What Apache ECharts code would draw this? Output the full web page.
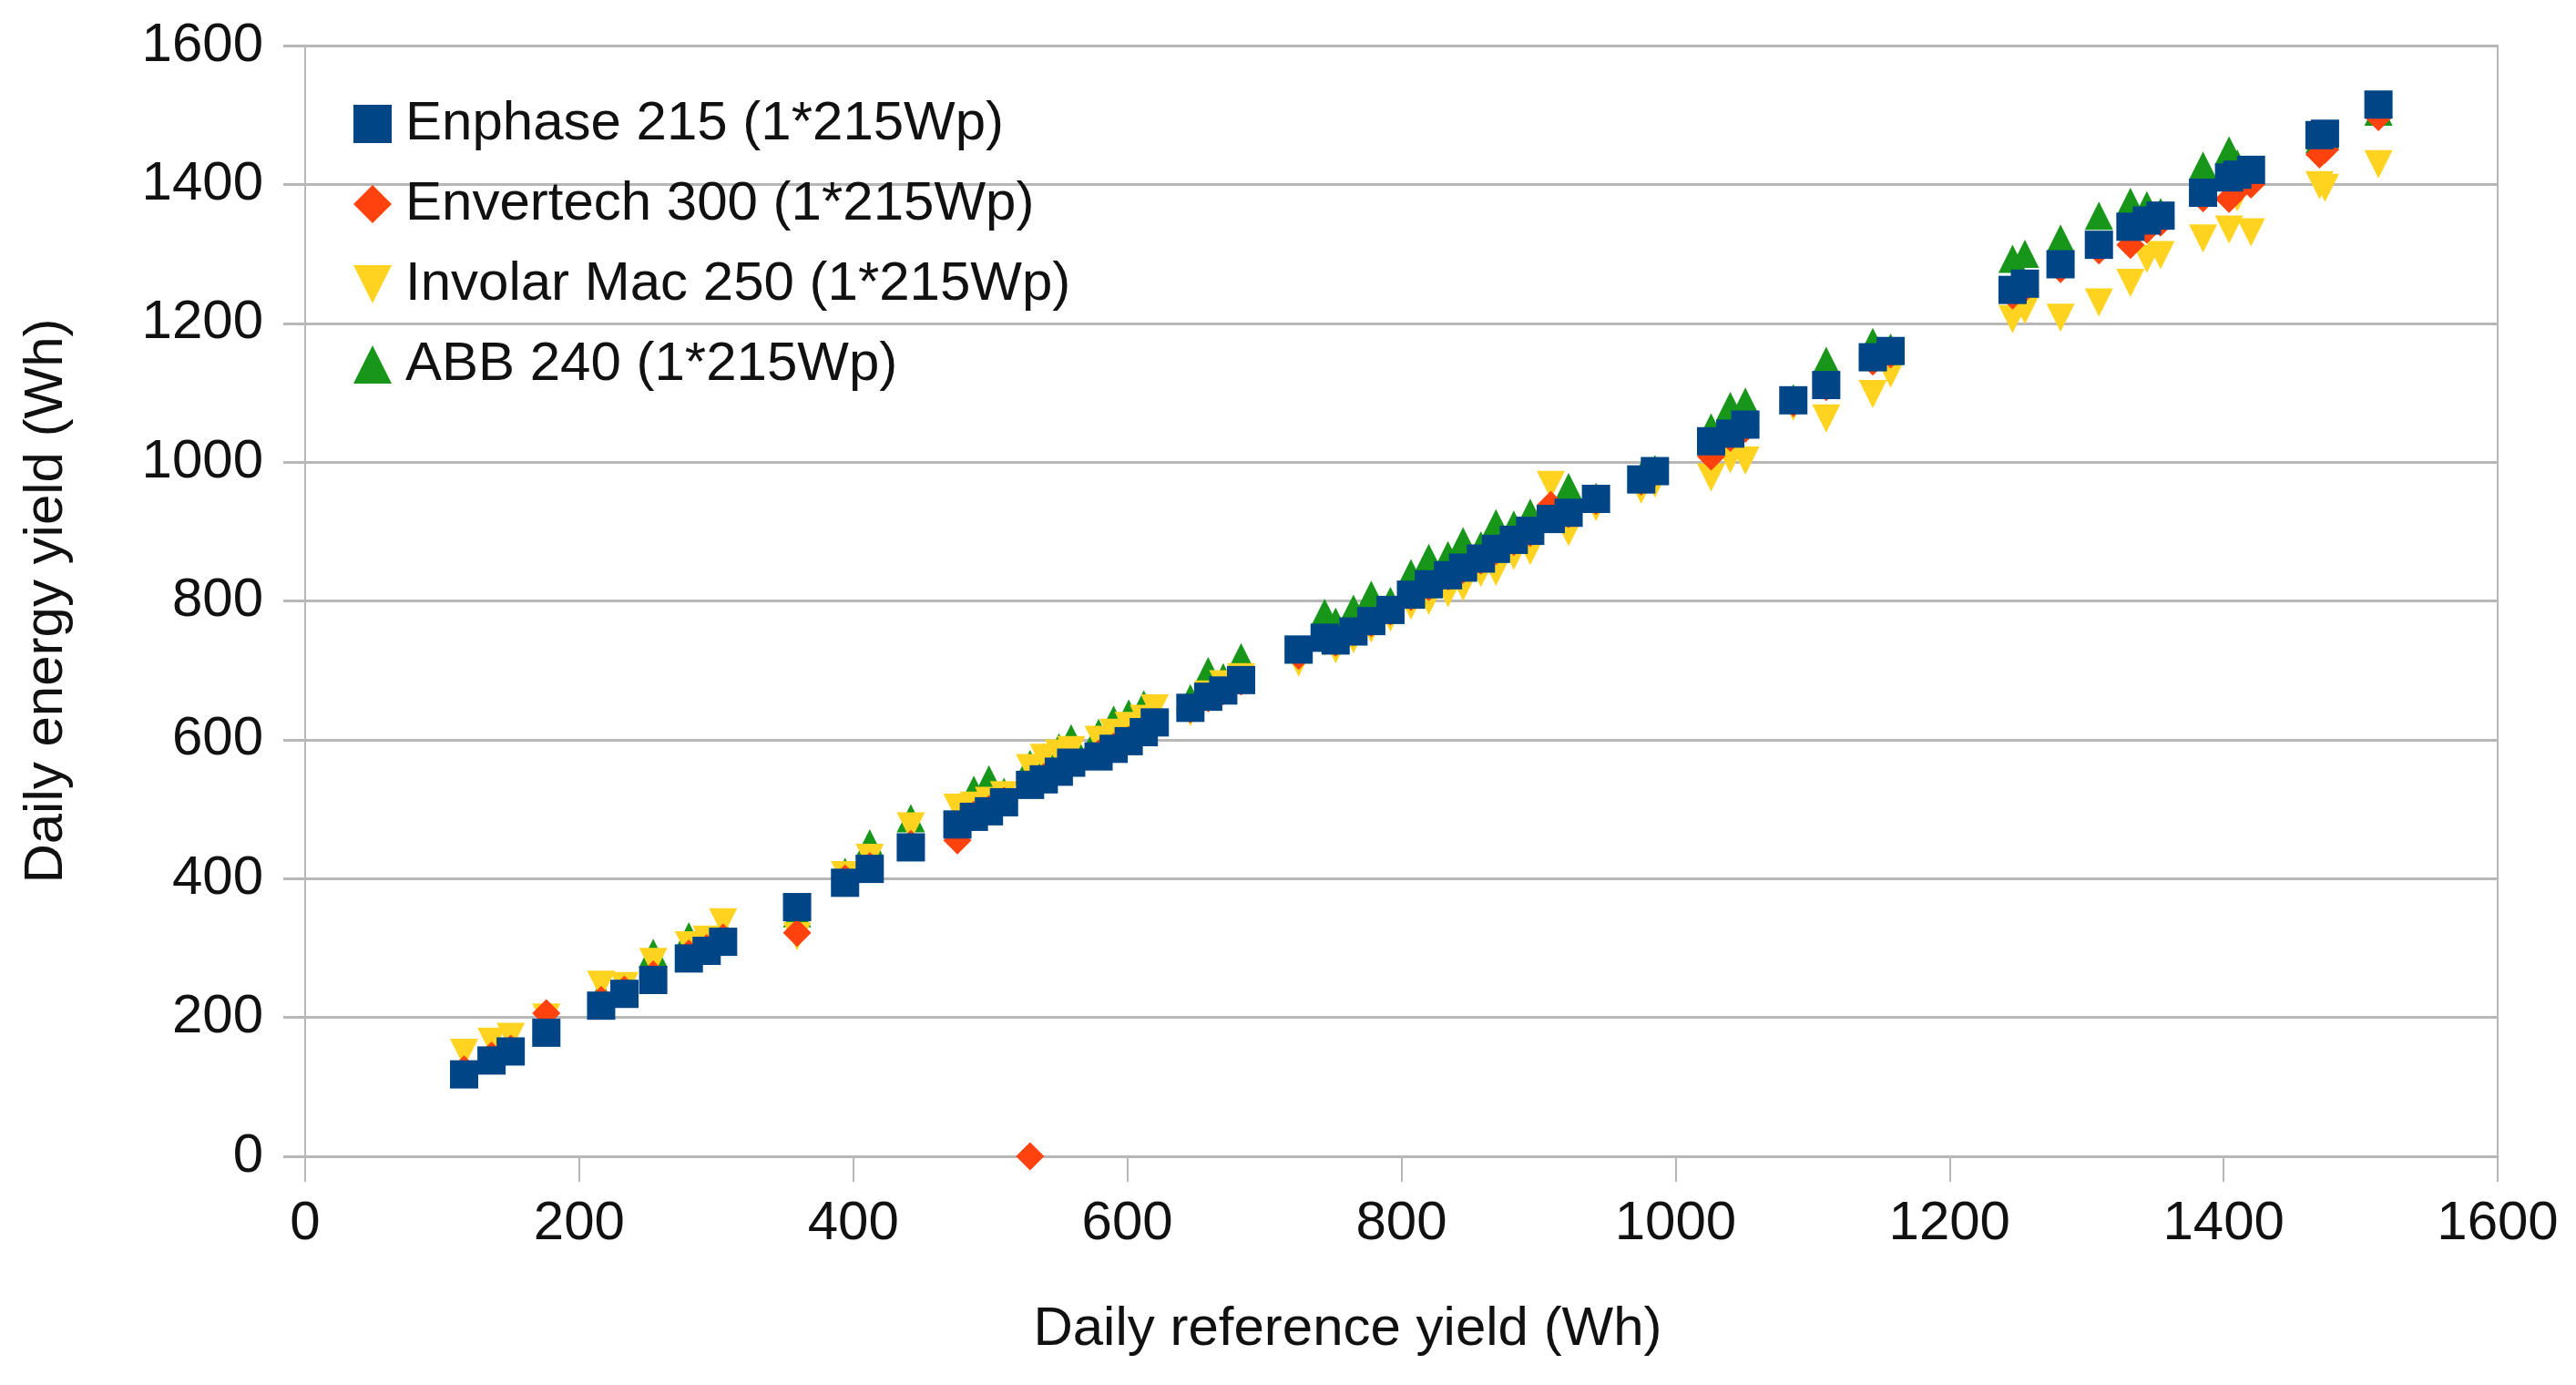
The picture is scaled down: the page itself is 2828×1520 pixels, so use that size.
<!DOCTYPE html>
<html>
<head>
<meta charset="utf-8">
<script src="https://cdn.jsdelivr.net/npm/echarts@6/dist/echarts.min.js"></script>
<style>
html,body{margin:0;padding:0;background:#fff;}
#chart{width:2828px;height:1520px;}
</style>
</head>
<body>
<div id="chart"></div>
<script>
// Daily reference yield (Wh) — shared x values
const xRef = [116,136,150,176,216,233,254,280,293,305,359,394,412,442,476,488,499,510,529,539,550,559,579,590,601,612,620,646,659,670,683,725,744,752,765,778,792,807,820,834,845,858,869,882,894,909,922,942,975,985,1026,1040,1051,1086,1110,1144,1157,1246,1255,1281,1309,1332,1344,1354,1385,1404,1410,1420,1470,1474,1513];
// Daily energy yield (Wh) per inverter
const enphase = [118,138,151,178,217,234,254,285,296,309,359,394,414,445,478,489,497,510,535,543,554,567,576,587,598,611,625,646,662,671,686,730,747,743,756,771,787,809,824,837,848,861,875,888,901,918,927,947,975,987,1030,1041,1054,1089,1111,1151,1160,1248,1257,1285,1313,1339,1348,1355,1388,1410,1414,1421,1471,1473,1515];
const envertech = [125,145,155,206,225,240,262,292,300,315,322,400,418,450,455,492,500,512,0,546,556,565,580,590,600,612,625,644,660,670,684,721,745,740,755,768,785,806,820,835,845,858,872,885,898,938,925,944,972,985,1008,1035,1048,1085,1108,1145,1155,1240,1250,1278,1305,1313,1335,1345,1380,1379,1392,1400,1443,1450,1497];
const involar = [149,165,172,200,247,245,280,304,312,337,317,405,430,475,502,505,512,520,559,574,580,585,600,610,620,630,645,640,665,680,690,711,741,730,745,760,776,793,800,811,820,840,842,865,872,967,899,935,960,969,978,1004,1002,1080,1063,1098,1127,1206,1219,1208,1230,1258,1293,1298,1322,1335,1381,1331,1399,1395,1429];
const abb = [128,150,160,190,235,245,293,317,310,325,350,410,451,487,490,528,543,525,565,575,589,602,610,629,638,651,640,660,699,690,719,730,783,770,789,809,800,840,862,866,886,880,912,910,927,935,964,950,980,990,1050,1081,1087,1092,1146,1173,1165,1293,1300,1322,1355,1375,1370,1360,1427,1449,1430,1420,1465,1470,1505];

const seriesNames = ['Enphase 215 (1*215Wp)','Envertech 300 (1*215Wp)','Involar Mac 250 (1*215Wp)','ABB 240 (1*215Wp)'];
const axisTicks = [0,200,400,600,800,1000,1200,1400,1600];

const FONT = 'Liberation Sans';
const TXT = '#111111';
const GRID = '#b7b7b7';
const downTri = 'path://M0,0L20,0L10,20Z';

function pairs(ys){ return xRef.map((x,i)=>[x, ys[i]]); }
const tickFmt = v => axisTicks.includes(v) ? String(v) : '';

const chart = echarts.init(document.getElementById('chart'), null, {renderer:'canvas'});
chart.setOption({
  animation:false,
  backgroundColor:'#ffffff',
  grid:{left:335, right:86, top:50, bottom:251, show:true, borderColor:GRID, borderWidth:2, backgroundColor:'transparent'},
  legend:{
    orient:'vertical', left:388, top:106, padding:0,
    itemWidth:42, itemHeight:42, itemGap:28,
    textStyle:{fontFamily:FONT, fontSize:60, color:TXT, padding:[0,0,0,10]},
    data:[
      {name:seriesNames[0], icon:'rect'},
      {name:seriesNames[1], icon:'diamond'},
      {name:seriesNames[2], icon:downTri},
      {name:seriesNames[3], icon:'triangle'}
    ]
  },
  xAxis:{
    type:'value', min:0, max:1600, interval:200,
    name:'Daily reference yield (Wh)', nameLocation:'middle', nameGap:160,
    nameTextStyle:{fontFamily:FONT, fontSize:60, color:TXT, padding:[0,118,0,0]},
    axisLine:{show:true, onZero:false, lineStyle:{color:GRID, width:3}},
    axisTick:{show:true, length:28, lineStyle:{color:GRID, width:2}},
    axisLabel:{fontFamily:FONT, fontSize:60, color:TXT, margin:44, formatter:tickFmt},
    splitLine:{show:false}
  },
  yAxis:{
    type:'value', min:0, max:1600, interval:200,
    name:'Daily energy yield (Wh)', nameLocation:'middle', nameGap:254,
    nameTextStyle:{fontFamily:FONT, fontSize:60, color:TXT},
    axisLine:{show:true, lineStyle:{color:GRID, width:2}},
    axisTick:{show:true, length:24, lineStyle:{color:GRID, width:3}},
    axisLabel:{fontFamily:FONT, fontSize:60, color:TXT, margin:46, formatter:tickFmt},
    splitLine:{show:true, lineStyle:{color:GRID, width:3}}
  },
  series:[
    {name:seriesNames[0], type:'scatter', z:5, symbol:'rect', symbolSize:31,
      itemStyle:{color:'#004586', opacity:1}, data:pairs(enphase)},
    {name:seriesNames[1], type:'scatter', z:4, symbol:'diamond', symbolSize:31,
      itemStyle:{color:'#ff420e', opacity:1}, data:pairs(envertech)},
    {name:seriesNames[2], type:'scatter', z:3, symbol:downTri, symbolSize:31,
      itemStyle:{color:'#ffd320', opacity:1}, data:pairs(involar)},
    {name:seriesNames[3], type:'scatter', z:2, symbol:'triangle', symbolSize:31,
      itemStyle:{color:'#17961a', opacity:1}, data:pairs(abb)}
  ]
});
</script>
</body>
</html>
